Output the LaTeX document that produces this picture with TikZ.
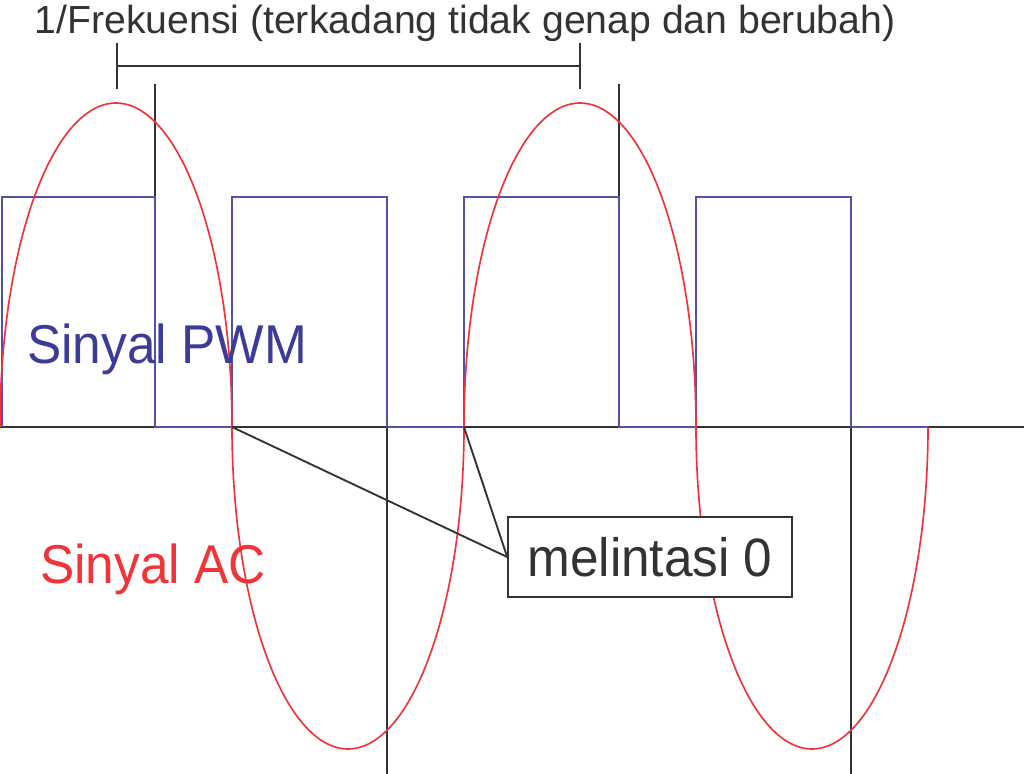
\documentclass[tikz,border=0pt]{standalone}
\usepackage{fontspec}
\setmainfont{Liberation Sans}
\definecolor{pwmblue}{RGB}{82,82,170}
\definecolor{textblue}{RGB}{58,60,152}
\definecolor{acred}{RGB}{240,52,58}
\definecolor{dark}{RGB}{51,51,51}
\begin{document}
\begin{tikzpicture}[x=0.75pt,y=-0.75pt,
  blk/.style={draw=dark,line width=1.4pt},
  pwm/.style={draw=pwmblue,line width=1.4pt},
  acw/.style={draw=acred,line width=1.25pt},
  lbl/.style={inner sep=0pt,anchor=base}]
\useasboundingbox (0,0) rectangle (1024,774);
\fill[white] (0,0) rectangle (1024,774);
% axis
\coordinate (axL) at (0,427);
\coordinate (axR) at (1024,427);
\draw[blk] (axL) -- (axR);
% bracket
\coordinate (bL) at (117,66);
\coordinate (bR) at (580,66);
\draw[blk] (bL) -- (bR);
\draw[blk] ([yshift=-17]bL) -- ([yshift=17]bL);
\draw[blk] ([yshift=-17]bR) -- ([yshift=17]bR);
% black verticals
\coordinate (v1t) at (155,84); \coordinate (v1b) at (155,427);
\coordinate (v2t) at (387,427); \coordinate (v2b) at (387,774);
\coordinate (v3t) at (619,84); \coordinate (v3b) at (619,427);
\coordinate (v4t) at (851,427); \coordinate (v4b) at (851,774);
\draw[blk] (v1t) -- (v1b);
\draw[blk] (v2t) -- (v2b);
\draw[blk] (v3t) -- (v3b);
\draw[blk] (v4t) -- (v4b);
% PWM
\draw[pwm] (2,427) -- (2,197) -- (155,197) -- (155,427) -- (232,427)
  -- (232,197) -- (387,197) -- (387,427) -- (464,427)
  -- (464,197) -- (619,197) -- (619,427) -- (696,427)
  -- (696,197) -- (851,197) -- (851,427) -- (928,427);
% AC
\draw[acw] plot[domain=0:180,samples=91] ({116-116*cos(\x)},{427-324*sin(\x)})
  -- plot[domain=0:180,samples=91] ({348-116*cos(\x)},{427+322*sin(\x)})
  -- plot[domain=0:180,samples=91] ({580-116*cos(\x)},{427-324*sin(\x)})
  -- plot[domain=0:180,samples=91] ({812-116*cos(\x)},{427+322*sin(\x)});
% labels
\node[lbl,text=dark,font=\fontsize{29.4pt}{34pt}\selectfont] (title) at (465,34)
  {1/Frekuensi (terkadang tidak genap dan berubah)};
\node[lbl,text=textblue,font=\fontsize{41pt}{48pt}\selectfont] (pwmlbl) at (167,363)
  {\scalebox{0.94}[1]{Sinyal PWM}};
\node[lbl,text=acred,font=\fontsize{41pt}{48pt}\selectfont] (aclbl) at (153,583)
  {\scalebox{0.94}[1]{Sinyal AC}};
% box and connectors
\coordinate (z1) at (232,427);
\coordinate (z2) at (464,427);
\node[draw=dark,line width=1.2pt,fill=white,minimum width=213pt,minimum height=60pt,
  inner sep=0pt,text=dark,font=\fontsize{40.5pt}{48pt}\selectfont] (box) at (650,557)
  {\scalebox{0.95}[1]{melintasi 0}};
\draw[blk] (z1) -- (box.west);
\draw[blk] (z2) -- (box.west);
\end{tikzpicture}
\end{document}
